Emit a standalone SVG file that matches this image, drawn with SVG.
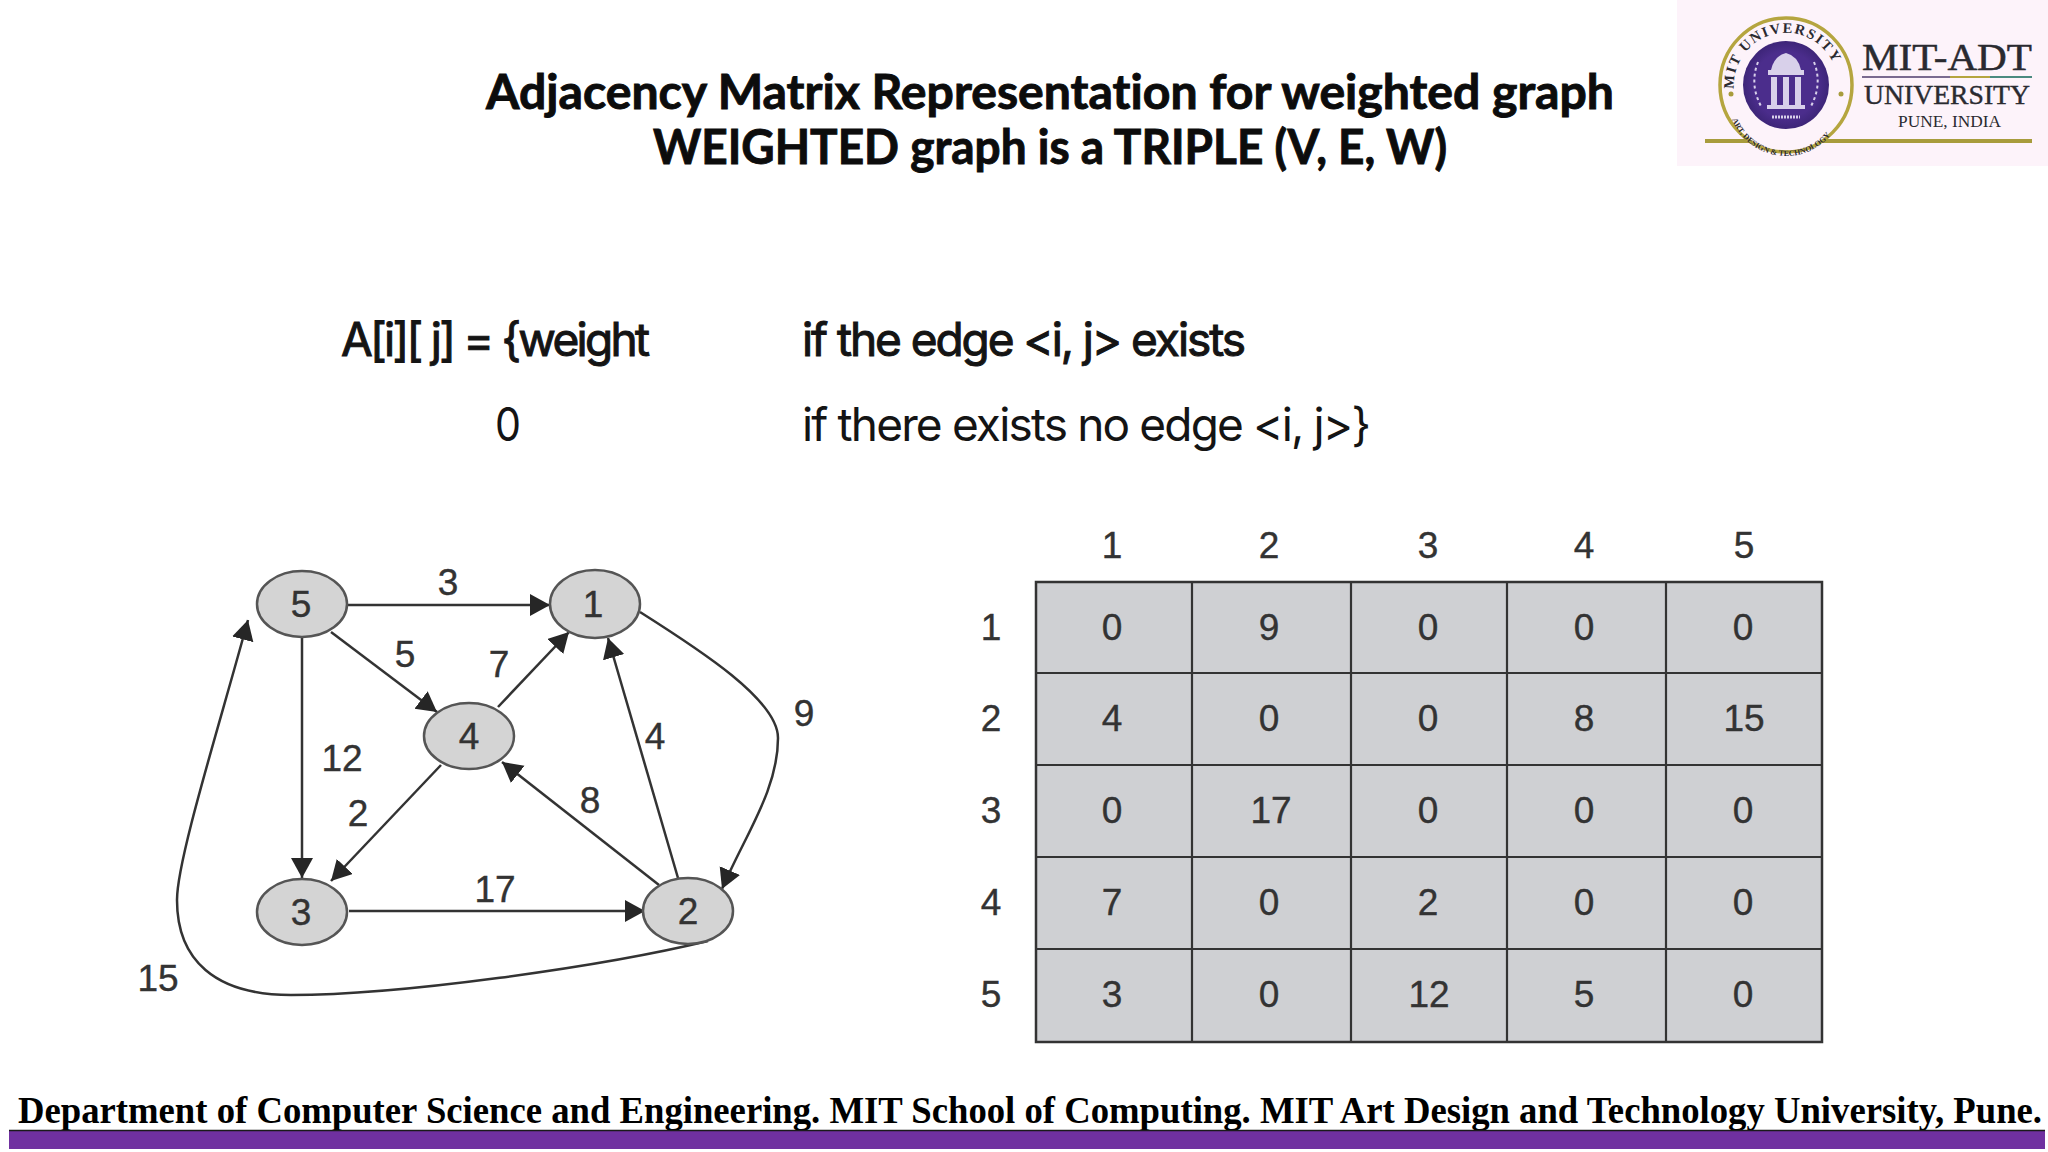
<svg xmlns="http://www.w3.org/2000/svg" width="2048" height="1152" viewBox="0 0 2048 1152">
<style>
.t{font-family:Lato,"Liberation Sans",sans-serif;font-weight:700;font-size:47px;fill:#0c0c0c;stroke:#0c0c0c;stroke-width:.9;font-variant-ligatures:none}
.f{font-family:Inter,"Liberation Sans",sans-serif;font-size:46px;fill:#141414;font-weight:400}
.b{stroke:#141414;stroke-width:1}
.n{font-family:"Liberation Sans",Arial,sans-serif;font-size:37px;fill:#333;stroke:#333;stroke-width:.4;text-anchor:middle}
.node{fill:#d4d4d4;stroke:#555;stroke-width:2.5}
.e{fill:none;stroke:#333;stroke-width:2.5;marker-end:url(#a)}
.s{font-family:"Liberation Serif",serif;fill:#2a2a30}
</style>
<defs>
<marker id="a" markerUnits="userSpaceOnUse" markerWidth="24" markerHeight="24" refX="20" refY="11" orient="auto"><path d="M0 0L20 11L0 22Z" fill="#262626"/></marker>
<path id="top" d="M1735 95A52 52 0 1 1 1837 95"/>
<path id="bot" d="M1728 98A58 58 0 0 0 1844 98"/>
<radialGradient id="p" cx=".5" cy=".5" r=".5"><stop offset=".75" stop-color="#4b2d8c"/><stop offset="1" stop-color="#3d2578"/></radialGradient>
</defs>
<rect width="2048" height="1152" fill="#fff"/>

<g id="title">
<text class="t" x="486" y="109" textLength="1128" lengthAdjust="spacingAndGlyphs">Adjacency Matrix Representation for weighted graph</text>
<text class="t" x="653" y="164" textLength="794" lengthAdjust="spacingAndGlyphs">WEIGHTED graph is a TRIPLE (V, E, W)</text>
</g>

<g id="logo">
<rect x="1677" y="0" width="371" height="166" fill="#fdf3fa"/>
<path d="M1705 141H2032" stroke="#a89c3c" stroke-width="4"/>
<ellipse cx="1786" cy="85" rx="66" ry="67" fill="#fdf3fa" stroke="#b5a53f" stroke-width="3.5"/>
<ellipse cx="1786" cy="85" rx="43" ry="44" fill="url(#p)"/>
<text class="s" font-size="14.5" font-weight="700" fill="#3f2a7a" letter-spacing="1.6"><textPath href="#top" startOffset="6">MIT UNIVERSITY</textPath></text>
<text class="s" font-size="8" font-weight="700" fill="#4b3a80"><textPath href="#bot" startOffset="22">ART, DESIGN &amp; TECHNOLOGY</textPath></text>
<circle cx="1731" cy="94" r="2.5" fill="#a89c3c"/><circle cx="1841" cy="94" r="2.5" fill="#a89c3c"/>
<g fill="#d8d0ea">
<path d="M1771 70Q1774 56 1786 53Q1798 56 1801 70Z"/>
<rect x="1768" y="70" width="36" height="5"/>
<rect x="1771" y="77" width="6" height="28"/><rect x="1783" y="77" width="6" height="28"/><rect x="1795" y="77" width="6" height="28"/>
<rect x="1767" y="105" width="38" height="4"/>
</g>
<g stroke="#d8d0ea" stroke-width="2" fill="none" stroke-dasharray="3 3">
<path d="M1758 62Q1749 85 1762 108"/><path d="M1814 62Q1823 85 1810 108"/>
</g>
<path d="M1772 117H1800" stroke="#d8d0ea" stroke-width="3" stroke-dasharray="2 1"/>
<text class="s" x="1862" y="70" font-size="38" textLength="170" lengthAdjust="spacingAndGlyphs" stroke="#2a2a30" stroke-width=".5">MIT-ADT</text>
<path d="M1862 77H1950" stroke="#7a6a90" stroke-width="2"/><path d="M1950 77H1990" stroke="#b5a53f" stroke-width="2"/><path d="M1990 77H2032" stroke="#4a8a80" stroke-width="2"/>
<text class="s" x="1864" y="104" font-size="27" textLength="166" lengthAdjust="spacingAndGlyphs" stroke="#2a2a30" stroke-width=".4">UNIVERSITY</text>
<text class="s" x="1898" y="127" font-size="17" fill="#55505a" textLength="103" lengthAdjust="spacingAndGlyphs">PUNE, INDIA</text>
</g>

<g id="formula">
<text class="f b" x="341" y="356" textLength="309" lengthAdjust="spacing">A[i][ j] = {weight</text>
<text class="f b" x="802" y="356" textLength="444" lengthAdjust="spacing">if the edge &lt;i, j&gt; exists</text>
<text class="f" x="495" y="441" textLength="26" lengthAdjust="spacingAndGlyphs">0</text>
<text class="f" x="802" y="441" textLength="569" lengthAdjust="spacing">if there exists no edge &lt;i, j&gt;}</text>
</g>

<g id="connectors">
<path class="e" d="M348 605H550"/>
<path class="e" d="M331 632L437 712"/>
<path class="e" d="M302 637V878"/>
<path class="e" d="M498 707L569 632"/>
<path class="e" d="M441 765L331 881"/>
<path class="e" d="M659 885L502 762"/>
<path class="e" d="M678 878L608 638"/>
<path class="e" d="M349 911H645"/>
<path class="e" d="M640 612C700 650 778 700 778 738C778 790 745 835 722 889"/>
<path class="e" d="M708 941C600 967 400 995 291 995C215 995 177 960 177 900C177 860 218 730 248 620"/>
</g>

<g id="node-5"><ellipse class="node" cx="302" cy="604" rx="45" ry="33"/><text class="n" x="301" y="617">5</text></g>
<g id="node-1"><ellipse class="node" cx="595" cy="604" rx="45" ry="34"/><text class="n" x="593" y="617">1</text></g>
<g id="node-4"><ellipse class="node" cx="469" cy="736" rx="45" ry="33"/><text class="n" x="469" y="749">4</text></g>
<g id="node-3"><ellipse class="node" cx="302" cy="912" rx="45" ry="33"/><text class="n" x="301" y="925">3</text></g>
<g id="node-2"><ellipse class="node" cx="688" cy="911" rx="45" ry="33"/><text class="n" x="688" y="924">2</text></g>

<g id="edge-labels">
<text class="n" x="448" y="595">3</text>
<text class="n" x="405" y="667">5</text>
<text class="n" x="499" y="677">7</text>
<text class="n" x="804" y="726">9</text>
<text class="n" x="655" y="749">4</text>
<text class="n" x="342" y="771">12</text>
<text class="n" x="358" y="826">2</text>
<text class="n" x="590" y="813">8</text>
<text class="n" x="495" y="902">17</text>
<text class="n" x="158" y="991">15</text>
</g>

<g id="matrix">
<rect x="1036" y="582" width="786" height="460" fill="#cfd0d3" stroke="#333" stroke-width="2.5"/>
<path d="M1192 582V1042M1351 582V1042M1507 582V1042M1666 582V1042M1036 673H1822M1036 765H1822M1036 857H1822M1036 949H1822" stroke="#333" stroke-width="2.2" fill="none"/>
<text class="n" x="1112" y="558">1</text><text class="n" x="1269" y="558">2</text><text class="n" x="1428" y="558">3</text><text class="n" x="1584" y="558">4</text><text class="n" x="1744" y="558">5</text>
<text class="n" x="991" y="640">1</text><text class="n" x="991" y="731">2</text><text class="n" x="991" y="823">3</text><text class="n" x="991" y="915">4</text><text class="n" x="991" y="1007">5</text>
<text class="n" x="1112" y="640">0</text><text class="n" x="1269" y="640">9</text><text class="n" x="1428" y="640">0</text><text class="n" x="1584" y="640">0</text><text class="n" x="1743" y="640">0</text>
<text class="n" x="1112" y="731">4</text><text class="n" x="1269" y="731">0</text><text class="n" x="1428" y="731">0</text><text class="n" x="1584" y="731">8</text><text class="n" x="1744" y="731">15</text>
<text class="n" x="1112" y="823">0</text><text class="n" x="1271" y="823">17</text><text class="n" x="1428" y="823">0</text><text class="n" x="1584" y="823">0</text><text class="n" x="1743" y="823">0</text>
<text class="n" x="1112" y="915">7</text><text class="n" x="1269" y="915">0</text><text class="n" x="1428" y="915">2</text><text class="n" x="1584" y="915">0</text><text class="n" x="1743" y="915">0</text>
<text class="n" x="1112" y="1007">3</text><text class="n" x="1269" y="1007">0</text><text class="n" x="1429" y="1007">12</text><text class="n" x="1584" y="1007">5</text><text class="n" x="1743" y="1007">0</text>
</g>

<g id="footer">
<text transform="translate(18 1123) scale(1 1.12)" font-family="'Liberation Serif',serif" font-weight="700" font-size="33" fill="#000" textLength="2024" lengthAdjust="spacingAndGlyphs">Department of Computer Science and Engineering. MIT School of Computing. MIT Art Design and Technology University, Pune.</text>
<rect x="9" y="1130" width="2036" height="19" fill="#7030a0"/>
<path d="M9 1130.5H2045" stroke="#1a1a1a" stroke-width="1.5"/>
</g>
</svg>
